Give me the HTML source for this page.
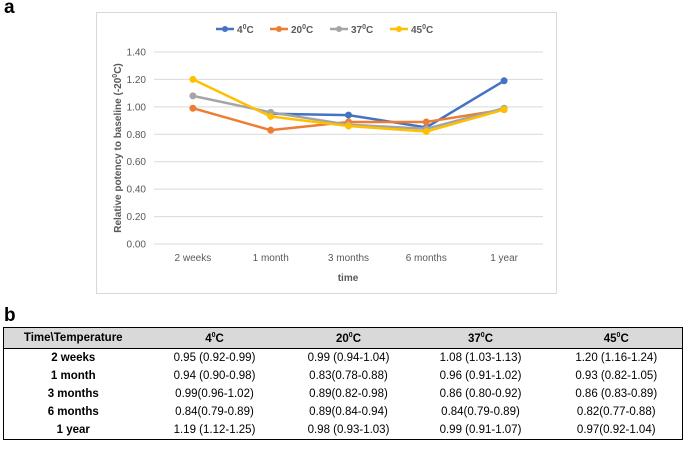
<!DOCTYPE html>
<html><head><meta charset="utf-8"><style>
body{margin:0;width:685px;height:449px;background:#fff;font-family:"Liberation Sans",Arial,sans-serif;overflow:hidden;position:relative}
.lbl{position:absolute;font-weight:bold;font-size:19px}
table{position:absolute;left:3px;top:327px;border-collapse:collapse;font-size:11.5px;table-layout:fixed;width:679px}
td,th{text-align:center;padding:0;height:18px}
th{background:#d9d9d9;height:20px;border-bottom:1px solid #000;font-weight:bold}
tbody td:first-child{font-weight:bold}
</style></head><body>
<div class="lbl" style="left:4px;top:-3px">a</div>
<svg width="685" height="305" style="position:absolute;left:0;top:0" font-family="Liberation Sans, Arial, sans-serif">
<rect x="96.5" y="12.5" width="460" height="281" fill="#fff" stroke="#d9d9d9"/>
<g id="grid"></g><g id="series"></g>
<text transform="translate(121,148) rotate(-90)" text-anchor="middle" font-size="10" font-weight="bold" fill="#595959">Relative potency to baseline (-20<tspan font-size="7" dy="-4">0</tspan><tspan dy="4">C)</tspan></text>
<text x="348" y="281" text-anchor="middle" font-size="10" font-weight="bold" fill="#595959">time</text>
<g id="legend"></g>
</svg>
<div class="lbl" style="left:4px;top:305px">b</div>
<table style="border:1px solid #000">
<colgroup><col style="width:139px"><col style="width:144px"><col style="width:124px"><col style="width:140px"><col style="width:132px"></colgroup>
<thead><tr><th>Time\Temperature</th><th>4<sup style="font-size:7px">0</sup>C</th><th>20<sup style="font-size:7px">0</sup>C</th><th>37<sup style="font-size:7px">0</sup>C</th><th>45<sup style="font-size:7px">0</sup>C</th></tr></thead>
<tbody>
<tr><td>2 weeks</td><td>0.95 (0.92-0.99)</td><td>0.99 (0.94-1.04)</td><td>1.08 (1.03-1.13)</td><td>1.20 (1.16-1.24)</td></tr>
<tr><td>1 month</td><td>0.94 (0.90-0.98)</td><td>0.83(0.78-0.88)</td><td>0.96 (0.91-1.02)</td><td>0.93 (0.82-1.05)</td></tr>
<tr><td>3 months</td><td>0.99(0.96-1.02)</td><td>0.89(0.82-0.98)</td><td>0.86 (0.80-0.92)</td><td>0.86 (0.83-0.89)</td></tr>
<tr><td>6 months</td><td>0.84(0.79-0.89)</td><td>0.89(0.84-0.94)</td><td>0.84(0.79-0.89)</td><td>0.82(0.77-0.88)</td></tr>
<tr><td>1 year</td><td>1.19 (1.12-1.25)</td><td>0.98 (0.93-1.03)</td><td>0.99 (0.91-1.07)</td><td>0.97(0.92-1.04)</td></tr>
</tbody></table>
<script>
const categories=["2 weeks","1 month","3 months","6 months","1 year"];
const seriesNames=["4","20","37","45"];
const seriesColors=["#4472c4","#ed7d31","#a5a5a5","#ffc000"];
const s4=[null,0.95,0.94,0.85,1.19];
const s20=[0.99,0.83,0.89,0.89,0.98];
const s37=[1.08,0.96,0.87,0.84,0.99];
const s45=[1.20,0.93,0.86,0.82,0.98];
const yTicks=[0,0.2,0.4,0.6,0.8,1.0,1.2,1.4];
const NS="http://www.w3.org/2000/svg";
const X0=154,X1=543,Y0=244,Y1=52,YMAX=1.4;
const xs=i=>X0+(X1-X0)/categories.length*(i+0.5);
const ys=v=>Y0-(Y0-Y1)*v/YMAX;
function mk(t,a,p){const e=document.createElementNS(NS,t);for(const k in a)e.setAttribute(k,a[k]);p.appendChild(e);return e;}
const grid=document.getElementById('grid');
yTicks.forEach(v=>{
 const l=mk('line',{x1:X0,x2:X1,y1:ys(v),y2:ys(v),stroke:'#d9d9d9'},grid);
 
 
 const t=mk('text',{x:X0-8,y:ys(v)+3.5,'text-anchor':'end','font-size':10,fill:'#595959'},grid);
 t.textContent=v.toFixed(2);
 
 
});
categories.forEach((c,i)=>{
 const t=mk('text',{x:xs(i),y:261,'text-anchor':'middle','font-size':10,fill:'#595959'},grid);
 t.textContent=c;
 
 
});
const sg=document.getElementById('series');
[s4,s20,s37,s45].forEach((d,k)=>{
 const pts=[];d.forEach((v,i)=>{if(v!==null)pts.push([xs(i),ys(v)]);});
 const pl=mk('polyline',{points:pts.map(p=>p.join(',')).join(' '),fill:'none',stroke:seriesColors[k],'stroke-width':2.5,'stroke-linejoin':'round'},sg);
 
 
 pts.forEach(p=>{
  const c=mk('circle',{cx:p[0],cy:p[1],r:3.5,fill:seriesColors[k]},sg);
  
  
 });
});
const lg=document.getElementById('legend');
const lx=[216,270,330,390];
seriesNames.forEach((n,k)=>{
 const g=mk('g',{},lg);
 
 
 mk('line',{x1:lx[k],x2:lx[k]+18,y1:29,y2:29,stroke:seriesColors[k],'stroke-width':2.5},g);
 mk('circle',{cx:lx[k]+9,cy:29,r:3,fill:seriesColors[k]},g);
 const t=mk('text',{x:lx[k]+21,y:33,'font-size':10,'font-weight':'bold',fill:'#595959'},g);
 t.innerHTML=n+'<tspan font-size="7" dy="-4">0</tspan><tspan dy="4">C</tspan>';
});
</script>
</body></html>
